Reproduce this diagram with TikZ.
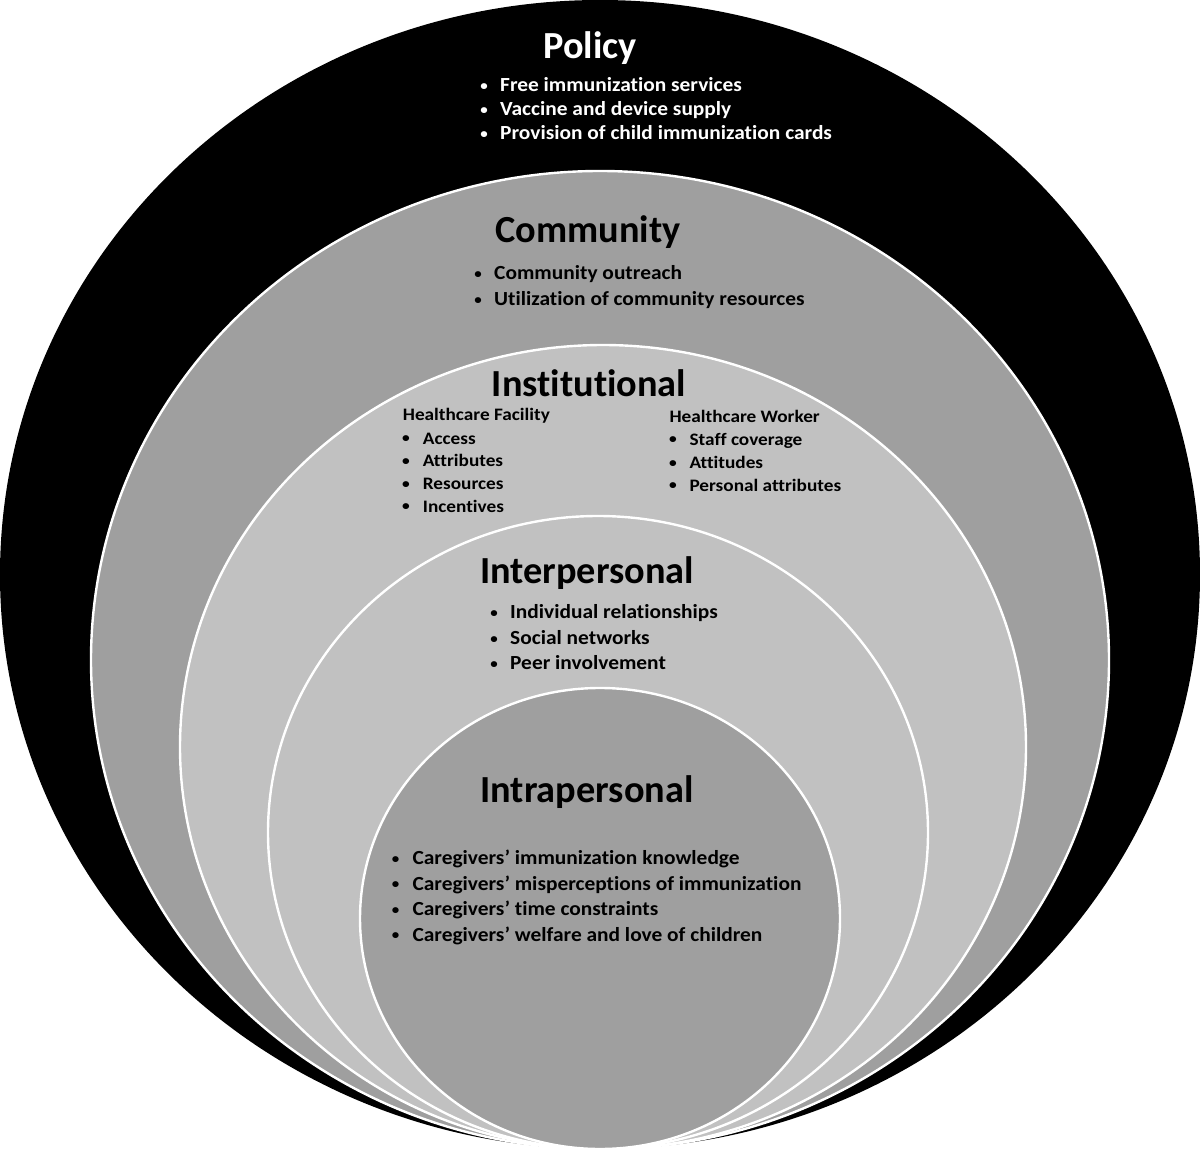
\documentclass[tikz,border=0pt]{standalone}
\usepackage{fontspec}
\setmainfont{Carlito}[RawFeature={-liga;-calt}]
\newfontfamily\ttlf{Carlito}[RawFeature={-liga;-calt}]
\newfontfamily\itmf{Carlito}[RawFeature={-liga;-calt},FakeStretch=1.07]
\newfontfamily\subf{Carlito}[RawFeature={-liga;-calt},FakeStretch=1.1]
\definecolor{midgray}{RGB}{159,159,159}
\definecolor{lightgray}{RGB}{193,193,193}
\newcommand\bul[1]{\llap{\makebox[0pt]{\raisebox{1.2pt}{\fontsize{14}{14}\selectfont\textbullet}}\hspace{#1}}}
\begin{document}
\begin{tikzpicture}[x=1pt,y=-1pt,
  ring/.style={fill=#1,draw=white,line width=2.4pt},
  ttl/.style={font=\ttlf\fontsize{38.3}{42}\selectfont\bfseries,inner sep=0pt,anchor=base},
  itm/.style={font=\itmf\fontsize{20}{24}\selectfont\bfseries,inner sep=0pt,anchor=base west},
  sub/.style={font=\subf\fontsize{17.5}{21}\selectfont\bfseries,inner sep=0pt,anchor=base west}]
\useasboundingbox (0,0) rectangle (1200,1150);
% ellipses
\fill[black] (600,574.5) ellipse [x radius=600pt,y radius=574.5pt];
\draw[ring=midgray] (600,660) ellipse [x radius=509pt,y radius=489pt];
\draw[ring=lightgray] (603,747) ellipse [x radius=423pt,y radius=402pt];
\draw[ring=lightgray] (598,832.5) ellipse [x radius=330pt,y radius=316.5pt];
\draw[ring=midgray] (600,918.5) ellipse [x radius=240pt,y radius=230.5pt];
% Policy
\node[ttl,text=white] (pol) at (590,59) {Policy};
\node[itm,text=white] (pol1) at (500,91.7) {\bul{16pt}Free immunization services};
\node[itm,text=white] (pol2) at (500,115.5) {\bul{16pt}Vaccine and device supply};
\node[itm,text=white] (pol3) at (500,139.3) {\bul{16pt}Provision of child immunization cards};
% Community
\node[ttl] (com) at (588,243) {Community};
\node[itm] (com1) at (494,279.5) {\bul{16pt}Community outreach};
\node[itm] (com2) at (494,305.5) {\bul{16pt}Utilization of community resources};
% Institutional
\node[ttl] (ins) at (589,396) {Institutional};
\node[sub] (hf) at (402.7,420.7) {Healthcare Facility};
\node[sub] (hf1) at (422.7,444) {\bul{17pt}Access};
\node[sub] (hf2) at (422.7,466.7) {\bul{17pt}Attributes};
\node[sub] (hf3) at (422.7,489.3) {\bul{17pt}Resources};
\node[sub] (hf4) at (422.7,512) {\bul{17pt}Incentives};
\node[sub] (hw) at (669.3,422.3) {Healthcare Worker};
\node[sub] (hw1) at (689.3,445) {\bul{16.5pt}Staff coverage};
\node[sub] (hw2) at (689.3,468.3) {\bul{16.5pt}Attitudes};
\node[sub] (hw3) at (689.3,491) {\bul{16.5pt}Personal attributes};
% Interpersonal
\node[ttl] (itp) at (587,583) {Interpersonal};
\node[itm] (itp1) at (510,618.5) {\bul{16pt}Individual relationships};
\node[itm] (itp2) at (510,644.5) {\bul{16pt}Social networks};
\node[itm] (itp3) at (510,669.5) {\bul{16pt}Peer involvement};
% Intrapersonal
\node[ttl] (itr) at (587,802) {Intrapersonal};
\node[itm] (itr1) at (412.3,864.5) {\bul{17pt}Caregivers’ immunization knowledge};
\node[itm] (itr2) at (412.3,890) {\bul{17pt}Caregivers’ misperceptions of immunization};
\node[itm] (itr3) at (412.3,915.5) {\bul{17pt}Caregivers’ time constraints};
\node[itm] (itr4) at (412.3,941) {\bul{17pt}Caregivers’ welfare and love of children};
\end{tikzpicture}
\end{document}
